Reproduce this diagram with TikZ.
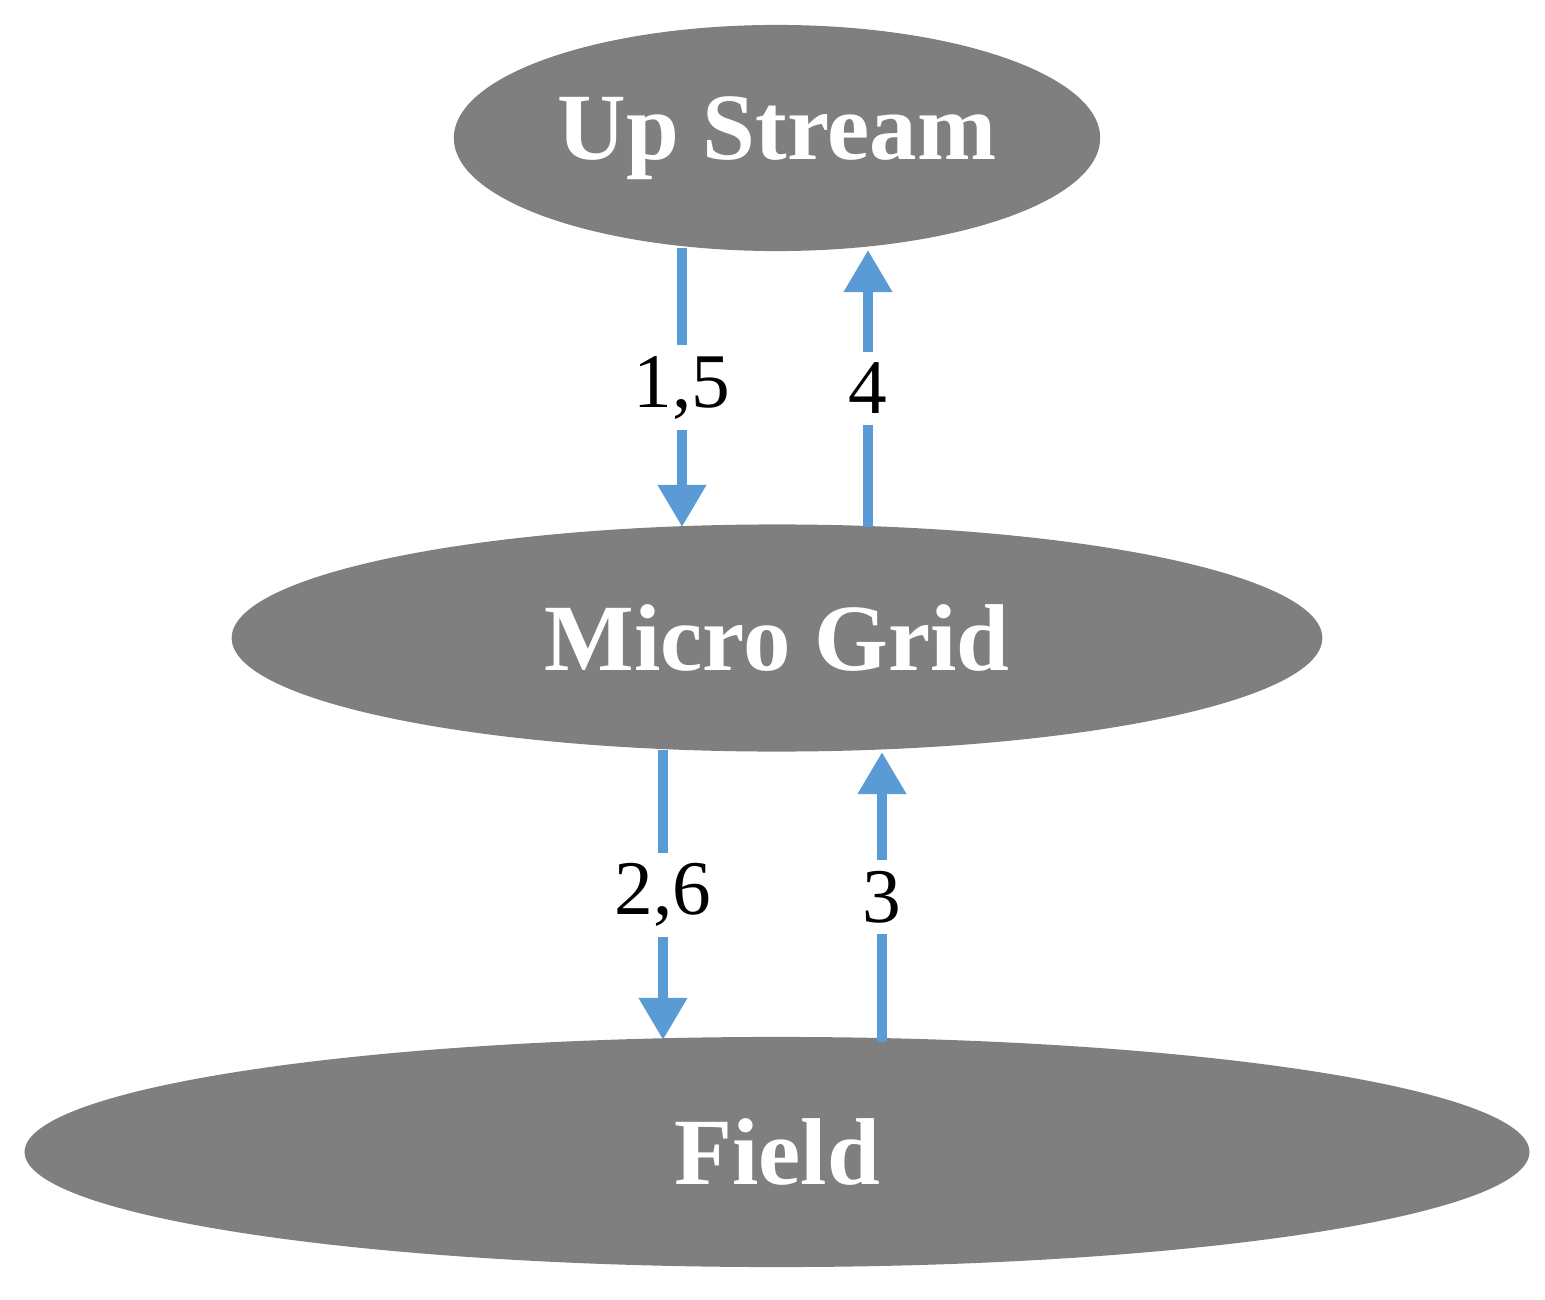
\documentclass[tikz,border=0pt]{standalone}
\usepackage{fontspec}
\setmainfont{Liberation Serif}
\usetikzlibrary{shapes.geometric,arrows.meta}
\definecolor{fillg}{HTML}{7F7F7F}
\definecolor{arr}{HTML}{5B9BD5}
\begin{document}
\begin{tikzpicture}[x=0.01cm,y=-0.01cm,
  blob/.style={ellipse,fill=fillg,inner sep=0pt,text=white,font=\fontsize{27}{30}\selectfont\bfseries},
  link/.style={draw=arr,line width=0.1cm,-{Triangle[width=0.46cm,length=0.42cm]}},
  lab/.style={fill=white,inner sep=3pt,font=\fontsize{22}{24}\selectfont}]
\useasboundingbox (0,0) rectangle (1545,1300);
\node[blob,minimum width=6.46cm,minimum height=2.26cm] (us) at (777,138) {Up Stream};
\node[blob,minimum width=10.9cm,minimum height=2.27cm] (mg) at (777,638) {Micro Grid};
\node[blob,minimum width=15.04cm,minimum height=2.3cm] (fd) at (777,1152) {Field};
\coordinate (a1) at (682,248); \coordinate (a2) at (682,527);
\coordinate (b1) at (868,527); \coordinate (b2) at (868,250);
\coordinate (c1) at (663,750); \coordinate (c2) at (663,1040);
\coordinate (d1) at (882,1042); \coordinate (d2) at (882,752);
\draw[link] (a1) -- node[lab,pos=0.5] (l1) {1,5} (a2);
\draw[link] (b1) -- node[lab,pos=0.5] (l2) {4} (b2);
\draw[link] (c1) -- node[lab,pos=0.5] (l3) {2,6} (c2);
\draw[link] (d1) -- node[lab,pos=0.5] (l4) {3} (d2);
\end{tikzpicture}
\end{document}
